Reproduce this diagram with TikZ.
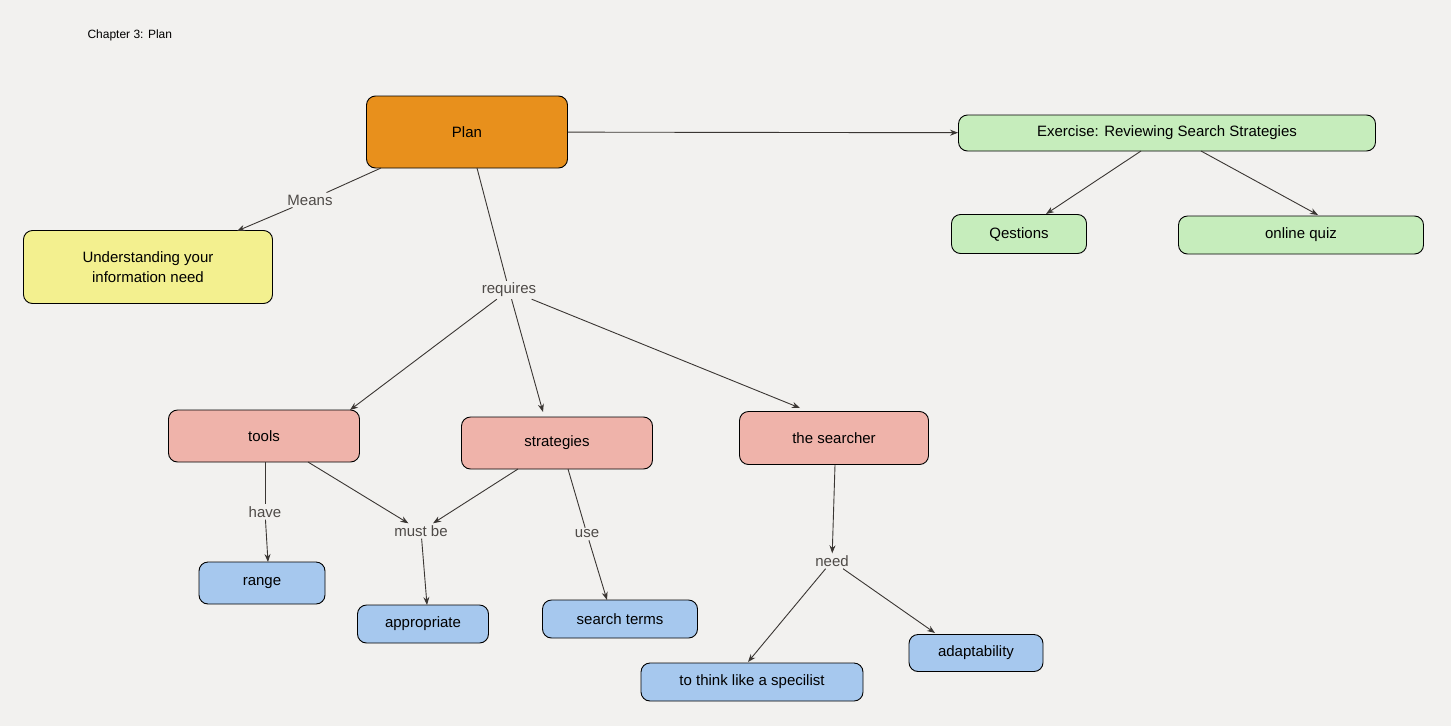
\documentclass[tikz,border=0pt]{standalone}
\usepackage{fontspec}
\setmainfont{Liberation Sans}
\usetikzlibrary{arrows.meta}
\definecolor{bg}{HTML}{F2F1EF}
\definecolor{cor}{HTML}{E8901C}
\definecolor{cgr}{HTML}{C6EDBC}
\definecolor{cye}{HTML}{F3F08F}
\definecolor{cpk}{HTML}{EFB3AA}
\definecolor{cbl}{HTML}{A6C8EE}
\definecolor{ln}{HTML}{3A3633}
\begin{document}
\begin{tikzpicture}[x=1pt,y=-1pt,
  box/.style={draw=black,line width=0.9pt,rounded corners=9pt,align=center,font=\fontsize{15}{20}\selectfont,inner sep=0pt},
  lab/.style={font=\fontsize{15}{18}\selectfont,text=ln!90,fill=bg,inner sep=2pt},
  ed/.style={draw=ln,line width=0.9pt},
  ar/.style={ed,-{Stealth[length=8pt,width=6pt]}}]
\fill[bg] (0,0) rectangle (1451,726);
\useasboundingbox (0,0) rectangle (1451,726);
\node[font=\fontsize{12}{14}\selectfont,anchor=west] (title) at (84,35) {Chapter 3: Plan};
\node[box,fill=cor,minimum width=201pt,minimum height=72pt] (plan) at (467,132) {Plan};
\node[box,fill=cgr,minimum width=417pt,minimum height=36pt] (ex) at (1167,133) {Exercise: Reviewing Search Strategies};
\node[box,fill=cgr,minimum width=135pt,minimum height=39pt] (q) at (1019,234) {Qestions};
\node[box,fill=cgr,minimum width=245pt,minimum height=38pt] (oq) at (1301,235) {online quiz};
\node[box,fill=cye,minimum width=249pt,minimum height=73pt] (und) at (148,267) {Understanding your\\information need};
\node[box,fill=cpk,minimum width=191pt,minimum height=52pt] (tools) at (264,436) {tools};
\node[box,fill=cpk,minimum width=191pt,minimum height=52pt] (str) at (557,443) {strategies};
\node[box,fill=cpk,minimum width=189pt,minimum height=53pt] (se) at (834,438) {the searcher};
\node[box,fill=cbl,minimum width=126pt,minimum height=42pt] (range) at (262,583) {range};
\node[box,fill=cbl,minimum width=131pt,minimum height=38pt] (app) at (423,624) {appropriate};
\node[box,fill=cbl,minimum width=155pt,minimum height=38pt] (st) at (620,619) {search terms};
\node[box,fill=cbl,minimum width=222pt,minimum height=38pt] (think) at (752,682) {to think like a specilist};
\node[box,fill=cbl,minimum width=134pt,minimum height=37pt] (ad) at (976,653) {adaptability};
\node[lab] (means) at (310,200) {Means};
\node[lab] (req) at (509,290) {requires};
\node[lab] (have) at (265,512) {have};
\node[lab] (must) at (421,531) {must be};
\node[lab] (use) at (587,534) {use};
\node[lab] (need) at (832,561) {need};
\draw[ed] (381,168) -- (means);
\draw[ar] (means) -- (237,231);
\draw[ed] (477,168) -- (req);
\draw[ar] (req) -- (350,410);
\draw[ar] (req) -- (543,412);
\draw[ar] (req) -- (800,408);
\draw[ar] (plan) -- (ex);
\draw[ar] (1141,151) -- (1046,214);
\draw[ar] (1201,151) -- (1318,215);
\draw[ed] (265,462) -- (have);
\draw[ar] (have) -- (268,562);
\draw[ar] (308,462) -- (must);
\draw[ar] (518,469) -- (must);
\draw[ar] (must) -- (427,605);
\draw[ed] (568,469) -- (use);
\draw[ar] (use) -- (607,600);
\draw[ar] (835,465) -- (need);
\draw[ar] (need) -- (748,662);
\draw[ar] (need) -- (935,633);
\end{tikzpicture}
\end{document}
